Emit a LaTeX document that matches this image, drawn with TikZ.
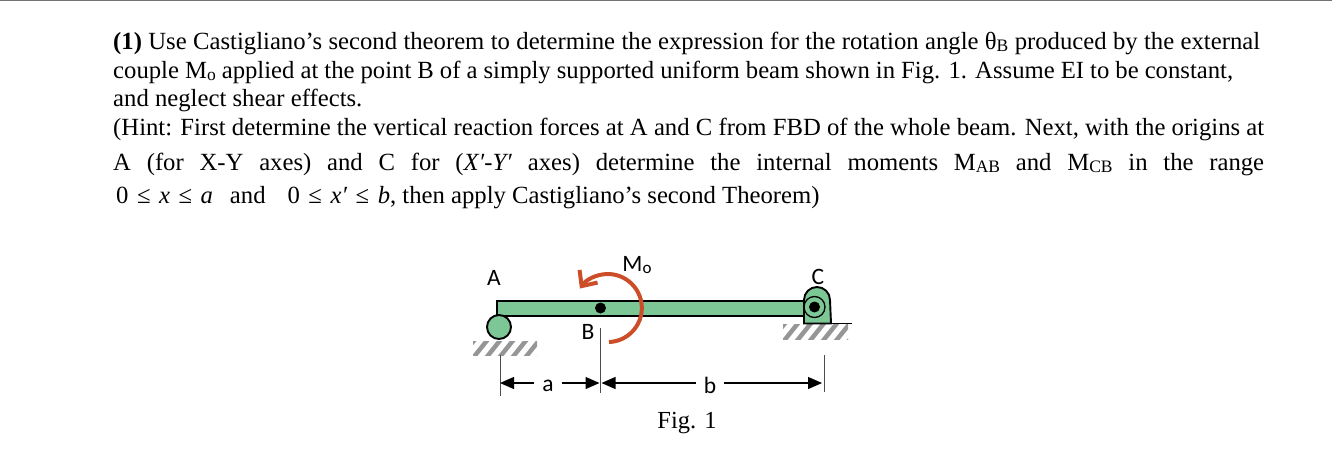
\documentclass[tikz,border=0pt]{standalone}
\usepackage{fontspec}
\setmainfont{Liberation Serif}
\newfontfamily\labelfont{Carlito}
\usetikzlibrary{arrows.meta}
\newcommand{\lowtxt}[1]{\raisebox{-0.1em}{\fontsize{17.5}{17.5}\selectfont #1}}
\newcommand{\mgap}{\hspace{8.5pt}}
\definecolor{beamgreen}{RGB}{125,199,150}
\definecolor{momentred}{RGB}{204,78,40}
\definecolor{hatchgray}{RGB}{150,150,150}
\begin{document}
\begin{tikzpicture}[x=1pt,y=1pt,>={Stealth[length=14pt,width=12pt,inset=0pt]},
  txtline/.style={anchor=base west,inner sep=0pt,font=\fontsize{24.7}{24.7}\selectfont},
  figlabel/.style={inner sep=0pt,font=\labelfont\fontsize{23.5}{23.5}\selectfont},
  dimlabel/.style={inner xsep=8pt,inner ysep=0pt,font=\labelfont\fontsize{23.5}{23.5}\selectfont},
  part/.style={draw=black,line width=1.9pt,fill=beamgreen},
  hatchline/.style={draw=hatchgray,line width=4.5pt},
  tick/.style={draw=black!70,line width=1pt},
  dimline/.style={draw=black,line width=1.2pt,->}]
  \useasboundingbox (0,0) rectangle (1332,-452);
  \draw[black!55,line width=1pt] (0,-0.5) -- (1332,-0.5);

  % problem text
  \node[txtline] (line1) at (113,-49) {\makebox[1147pt][s]{\textbf{(1)} Use Castigliano’s second theorem to determine the expression for the rotation angle θ\lowtxt{B} produced by the external}};
  \node[txtline] (line2) at (113,-78) {\makebox[1120pt][s]{couple M\lowtxt{o} applied at the point B of a simply supported uniform beam shown in Fig. 1. Assume EI to be constant,}};
  \node[txtline] (line3) at (113,-106) {and neglect shear effects.};
  \node[txtline] (line4) at (113,-135) {\makebox[1151pt][s]{(Hint: First determine the vertical reaction forces at A and C from FBD of the whole beam. Next, with the origins at}};
  \node[txtline] (line5) at (113,-170) {\makebox[1151pt][s]{A (for X-Y axes) and C for (\textit{X′}-\textit{Y′} axes) determine the internal moments M\lowtxt{AB} and M\lowtxt{CB} in the range}};
  \node[txtline] (line6) at (116,-203) {0\mgap≤\mgap\textit{x}\mgap≤\mgap\textit{a}\hspace{17pt}and\hspace{22pt}0\mgap≤\mgap\textit{x′}\mgap≤\mgap\textit{b}, then apply Castigliano’s second Theorem)};

  % ground hatching
  \begin{scope}
    \clip (473,-341) rectangle (537,-355);
    \foreach \x in {460,473,...,550}
      \draw[hatchline] (\x,-358) -- (\x+16,-338);
  \end{scope}
  \begin{scope}
    \clip (783,-324) rectangle (848,-339);
    \foreach \x in {770,783,...,850}
      \draw[hatchline] (\x,-342) -- (\x+16,-322);
  \end{scope}

  % beam and supports
  \draw[part] (497,-301) rectangle (808,-316);
  \node[part,circle,minimum size=24pt,inner sep=0pt] (rollerA) at (499,-327) {};
  \draw[part] (804,-323.5) -- (804,-300) arc[start angle=180,end angle=0,radius=13] -- (831,-323.5) -- cycle;
  \draw[black,line width=1.9pt] (803,-323.5) -- (852,-323.5);
  \node[draw=black,line width=1.3pt,circle,minimum size=21pt,inner sep=0pt] (pinC) at (814.5,-307) {};
  \node[fill=black,circle,minimum size=11pt,inner sep=0pt] (pinCdot) at (pinC) {};
  \node[fill=black,circle,minimum size=11pt,inner sep=0pt] (ptB) at (600.5,-308) {};

  % moment
  \draw[momentred,line width=4pt,-{Straight Barb[length=12pt,width=22pt,line width=4pt]}]
    (609,-342) arc[start angle=-88,end angle=145,radius=34];

  % labels
  \node[figlabel] (lblA) at (494,-278) {A};
  \node[figlabel] (lblB) at (588,-332) {B};
  \node[figlabel] (lblC) at (818,-277) {C};
  \node[figlabel] (lblM) at (637,-265) {M\raisebox{-0.1em}{\fontsize{17}{17}\selectfont o}};
  \node[dimlabel] (lblDimA) at (548,-386) {a};
  \node[dimlabel] (lblDimB) at (710,-385) {b};
  \node[inner sep=0pt,font=\fontsize{24.5}{24.5}\selectfont] (figcap) at (687,-423) {Fig. 1};

  % dimensions
  \coordinate (tickA) at (500,-355);
  \coordinate (tickAend) at (500,-396);
  \coordinate (tickB) at (600.5,-328);
  \coordinate (tickBend) at (600.5,-393);
  \coordinate (tickC) at (824,-355);
  \coordinate (tickCend) at (824,-392);
  \draw[tick] (tickA) -- (tickAend);
  \draw[tick] (tickB) -- (tickBend);
  \draw[tick] (tickC) -- (tickCend);
  \coordinate (dimA) at (500,-383);
  \coordinate (dimBl) at (599.5,-383);
  \coordinate (dimBr) at (601.5,-383);
  \coordinate (dimC) at (822,-383);
  \draw[dimline] (lblDimA.east |- dimA) -- (dimBl);
  \draw[dimline] (lblDimA.west |- dimA) -- (dimA);
  \draw[dimline] (lblDimB.west |- dimA) -- (dimBr);
  \draw[dimline] (lblDimB.east |- dimA) -- (dimC);
\end{tikzpicture}
\end{document}
